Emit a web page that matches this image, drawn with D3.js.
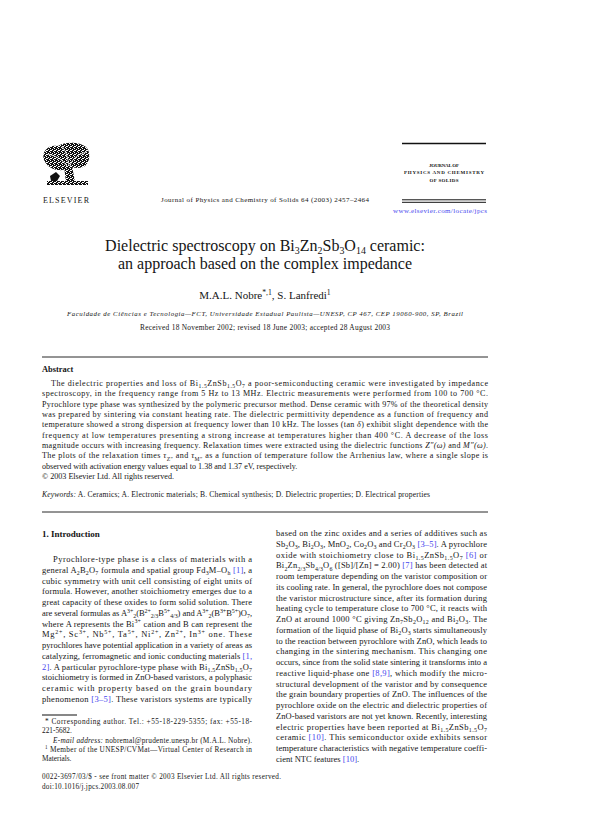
<!DOCTYPE html>
<html>
<head>
<meta charset="utf-8">
<script src="https://cdn.jsdelivr.net/npm/d3@7"></script>
<style>
  body { margin: 0; background: #fff; }
  svg { display: block; }
  text { font-family: "Liberation Serif", "Times New Roman", serif; fill: #151515; }
</style>
</head>
<body>
<div id="page"></div>
<script>
// ---- page content, line by line ----
// markup: _{sub}  ^{sup}  ~{italic}  #{blue link}
const journalLine = "Journal of Physics and Chemistry of Solids 64 (2003) 2457–2464";
const boxLines = ["JOURNAL OF", "PHYSICS AND CHEMISTRY", "OF SOLIDS"];
const urlText = "www.elsevier.com/locate/jpcs";

const titleLines = [
    "Dielectric spectroscopy on Bi_{3}Zn_{2}Sb_{3}O_{14} ceramic:",
    "an approach based on the complex impedance"
];
const authorLine = "M.A.L. Nobre^{*,1}, S. Lanfredi^{1}";
const affiliation = "Faculdade de Ciências e Tecnologia—FCT, Universidade Estadual Paulista—UNESP, CP 467, CEP 19060-900, SP, Brazil";
const receivedLine = "Received 18 November 2002; revised 18 June 2003; accepted 28 August 2003";

const abstractLines = [
    "The dielectric properties and loss of Bi_{1.5}ZnSb_{1.5}O_{7} a poor-semiconducting ceramic were investigated by impedance",
    "spectroscopy, in the frequency range from 5 Hz to 13 MHz. Electric measurements were performed from 100 to 700 °C.",
    "Pyrochlore type phase was synthesized by the polymeric precursor method. Dense ceramic with 97% of the theoretical density",
    "was prepared by sintering via constant heating rate. The dielectric permittivity dependence as a function of frequency and",
    "temperature showed a strong dispersion at frequency lower than 10 kHz. The losses (tan ~{δ}) exhibit slight dependence with the",
    "frequency at low temperatures presenting a strong increase at temperatures higher than 400 °C. A decrease of the loss",
    "magnitude occurs with increasing frequency. Relaxation times were extracted using the dielectric functions ~{Z″(ω)} and ~{M″(ω)}.",
    "The plots of the relaxation times ~{τ}_{Z″} and ~{τ}_{M″} as a function of temperature follow the Arrhenius law, where a single slope is",
    "observed with activation energy values equal to 1.38 and 1.37 eV, respectively.",
    "© 2003 Elsevier Ltd. All rights reserved."
];
const abstractRagged = [8, 9];
const keywordsLine = "~{Keywords:} A. Ceramics; A. Electronic materials; B. Chemical synthesis; D. Dielectric properties; D. Electrical properties";

const leftLines = [
    "Pyrochlore-type phase is a class of materials with a",
    "general A_{2}B_{2}O_{7} formula and spatial group Fd_{3}M–O_{h} #{[1]}, a",
    "cubic symmetry with unit cell consisting of eight units of",
    "formula. However, another stoichiometry emerges due to a",
    "great capacity of these oxides to form solid solution. There",
    "are several formulas as A^{3+}_{2}(B^{2+}_{2/3}B^{5+}_{4/3}) and A^{3+}_{2}(B^{3+}B^{5+})O_{7},",
    "where A represents the Bi^{3+} cation and B can represent the",
    "Mg^{2+}, Sc^{3+}, Nb^{5+}, Ta^{5+}, Ni^{2+}, Zn^{2+}, In^{3+} one. These",
    "pyrochlores have potential application in a variety of areas as",
    "catalyzing, ferromagnetic and ionic conducting materials #{[1,}",
    "#{2]}. A particular pyrochlore-type phase with Bi_{1.5}ZnSb_{1.5}O_{7}",
    "stoichiometry is formed in ZnO-based varistors, a polyphasic",
    "ceramic with property based on the grain boundary",
    "phenomenon #{[3–5]}. These varistors systems are typically"
];

const rightLines = [
    "based on the zinc oxides and a series of additives such as",
    "Sb_{2}O_{3}, Bi_{2}O_{3}, MnO_{2}, Co_{2}O_{3} and Cr_{2}O_{3} #{[3–5]}. A pyrochlore",
    "oxide with stoichiometry close to Bi_{1.5}ZnSb_{1.5}O_{7} #{[6]} or",
    "Bi_{2}Zn_{2/3}Sb_{4/3}O_{6} ([Sb]/[Zn] = 2.00) #{[7]} has been detected at",
    "room temperature depending on the varistor composition or",
    "its cooling rate. In general, the pyrochlore does not compose",
    "the varistor microstructure since, after its formation during",
    "heating cycle to temperature close to 700 °C, it reacts with",
    "ZnO at around 1000 °C giving Zn_{7}Sb_{2}O_{12} and Bi_{2}O_{3}. The",
    "formation of the liquid phase of Bi_{2}O_{3} starts simultaneously",
    "to the reaction between pyrochlore with ZnO, which leads to",
    "changing in the sintering mechanism. This changing one",
    "occurs, since from the solid state sintering it transforms into a",
    "reactive liquid-phase one #{[8,9]}, which modify the micro-",
    "structural development of the varistor and by consequence",
    "the grain boundary properties of ZnO. The influences of the",
    "pyrochlore oxide on the electric and dielectric properties of",
    "ZnO-based varistors are not yet known. Recently, interesting",
    "electric properties have been reported at Bi_{1.5}ZnSb_{1.5}O_{7}",
    "ceramic #{[10]}. This semiconductor oxide exhibits sensor",
    "temperature characteristics with negative temperature coeffi-",
    "cient NTC features #{[10]}."
];
const rightRagged = [21];

const footnoteLines = [
    "* Corresponding author. Tel.: +55-18-229-5355; fax: +55-18-",
    "221-5682.",
    "~{E-mail address:} nobremal@prudente.unesp.br (M.A.L. Nobre).",
    "^{1} Member of the UNESP/CVMat—Virtual Center of Research in",
    "Materials."
];
const footnoteIndent = [3, 0, 11, 3, 0];
const footnoteRagged = [1, 4];

const bottomLines = [
    "0022-3697/03/$ - see front matter © 2003 Elsevier Ltd. All rights reserved.",
    "doi:10.1016/j.jpcs.2003.08.007"
];

const linkBlue = "#4646ee";

// ---- drawing ----
const W = 600, H = 825;
const svg = d3.select("#page").append("svg")
    .attr("width", W)
    .attr("height", H);

svg.append("rect").attr("width", W).attr("height", H).attr("fill", "#fff");

// text block edges
const left = 42, right = 488;
const colW = 210, col2 = 276, col2W = 211;

// writes one line with sub/sup/italic/link spans
function richText(parent, str, o) {
    const t = parent.append("text")
        .attr("x", o.x)
        .attr("y", o.y)
        .style("font-size", o.size + "px");
    if (o.anchor) t.attr("text-anchor", o.anchor);
    if (o.weight) t.style("font-weight", o.weight);
    if (o.italic) t.style("font-style", "italic");
    if (o.fill) t.style("fill", o.fill);
    if (o.width) t.attr("textLength", o.width).attr("lengthAdjust", "spacing");

    const subDy = o.subDy != null ? o.subDy : 0.28;
    const subSize = o.subSize || 0.7;
    let shift = 0, last = 0, m;
    const re = /([_^~#])\{([^}]*)\}/g;
    const put = (s, kind) => {
        if (!s) return;
        const target = kind === "_" ? o.size * subDy : kind === "^" ? -o.size * 0.38 : 0;
        const sp = t.append("tspan").text(s);
        if (target !== shift) {
            sp.attr("dy", target - shift);
            shift = target;
        }
        if (kind === "_" || kind === "^") sp.style("font-size", (o.size * subSize) + "px");
        if (kind === "~") sp.style("font-style", "italic");
        if (kind === "#") sp.style("fill", linkBlue);
    };
    while ((m = re.exec(str))) {
        put(str.slice(last, m.index), "");
        put(m[2], m[1]);
        last = re.lastIndex;
    }
    put(str.slice(last), "");
    return t;
}

function rule(x1, x2, y, w) {
    svg.append("line")
        .attr("x1", x1).attr("x2", x2)
        .attr("y1", y).attr("y2", y)
        .attr("stroke", "#111")
        .attr("stroke-width", w);
}

// ---- header: logo ----
const defs = svg.append("defs");
const pat = defs.append("pattern")
    .attr("id", "dither")
    .attr("width", 4).attr("height", 4)
    .attr("patternUnits", "userSpaceOnUse");
pat.append("rect").attr("width", 4).attr("height", 4).attr("fill", "#111");
[[0, 1], [2, 0], [1, 3], [3, 2], [2, 2]].forEach(p => {
    pat.append("rect").attr("x", p[0]).attr("y", p[1])
        .attr("width", 1).attr("height", 1).attr("fill", "#fff");
});

const logo = svg.append("g");
logo.append("path")
    .attr("d", "M44,160 C41,151 49,144 58,146 C66,141 80,142 86,147 C91,152 90,162 85,166 C79,170 73,166 67,169 C58,172 48,169 44,160 Z")
    .attr("fill", "url(#dither)");
// a few light branches through the crown
logo.append("path")
    .attr("d", "M68,168 C64,160 56,156 48,154 M70,166 C72,158 80,153 87,152 M69,166 C68,158 66,151 62,146")
    .attr("fill", "none")
    .attr("stroke", "#fff")
    .attr("stroke-width", 0.8);
logo.append("path")
    .attr("d", "M64,166 L66,182 L75,182 L72,166 Z")
    .attr("fill", "url(#dither)");
logo.append("path")
    .attr("d", "M47,181 L88,181 L88,185 L47,185 Z")
    .attr("fill", "url(#dither)");
logo.append("path")
    .attr("d", "M50,176 L56,172 L60,176 L57,181 L51,181 Z")
    .attr("fill", "#111");

richText(svg, "ELSEVIER", {x: 43, y: 202.5, size: 8, width: 46});

// journal reference
richText(svg, journalLine, {x: 161, y: 202, size: 7, width: 208});

// journal box on the right
rule(402, 486, 143.5, 1.3);
const boxY = d3.scaleLinear().domain([0, 2]).range([167, 181.5]);
const boxW = [30, 80, 29];
boxLines.forEach((s, i) => {
    richText(svg, s, {x: 444, y: boxY(i), size: 5, weight: "bold", anchor: "middle", width: boxW[i]});
});
rule(402, 486, 199.8, 1);
rule(402, 486, 202.3, 1);
richText(svg, urlText, {x: 393, y: 212.5, size: 7, fill: linkBlue, width: 94});

// ---- title block ----
const center = (left + right) / 2;
richText(svg, titleLines[0], {x: center, y: 251, size: 16, anchor: "middle", subDy: 0.18, subSize: 0.62});
richText(svg, titleLines[1], {x: center, y: 269, size: 16, anchor: "middle"});
richText(svg, authorLine, {x: center, y: 299, size: 11, anchor: "middle"});
richText(svg, affiliation, {x: center, y: 315.5, size: 6.8, italic: true, anchor: "middle", width: 396});
richText(svg, receivedLine, {x: center, y: 330, size: 7.4, anchor: "middle", width: 250});

// ---- abstract ----
rule(left, right, 357, 0.9);
richText(svg, "Abstract", {x: left, y: 372, size: 8.4, weight: "bold"});

const absY = d3.scaleLinear().domain([0, abstractLines.length - 1]).range([386, 479]);
abstractLines.forEach((s, i) => {
    const x = i === 0 ? left + 9 : left;
    const ragged = abstractRagged.includes(i);
    richText(svg, s, {x: x, y: absY(i), size: 8.1, width: ragged ? null : right - x});
});
richText(svg, keywordsLine, {x: left, y: 497, size: 7.6, width: 388});
rule(left, right, 512, 0.9);

// ---- body, two columns ----
richText(svg, "1. Introduction", {x: left, y: 537, size: 9, weight: "bold"});

const lineStep = 10.76;
const leftY = d3.scaleLinear().domain([0, 1]).range([562, 562 + lineStep]);
leftLines.forEach((s, i) => {
    const x = i === 0 ? left + 11 : left;
    richText(svg, s, {x: x, y: leftY(i), size: 8.5, width: left + colW - x});
});

const rightY = d3.scaleLinear().domain([0, 1]).range([536, 536 + lineStep]);
rightLines.forEach((s, i) => {
    const ragged = rightRagged.includes(i);
    richText(svg, s, {x: col2, y: rightY(i), size: 8.5, width: ragged ? null : col2W});
});

// ---- footnotes ----
rule(left, left + 35, 715, 1.2);
const footY = d3.scaleLinear().domain([0, footnoteLines.length - 1]).range([724, 761]);
footnoteLines.forEach((s, i) => {
    const x = left + footnoteIndent[i];
    const ragged = footnoteRagged.includes(i);
    richText(svg, s, {x: x, y: footY(i), size: 7.3, width: ragged ? null : left + colW - x});
});

richText(svg, bottomLines[0], {x: left, y: 779, size: 7.2, width: 239});
richText(svg, bottomLines[1], {x: left, y: 789, size: 7.2, width: 97});
</script>
</body>
</html>
